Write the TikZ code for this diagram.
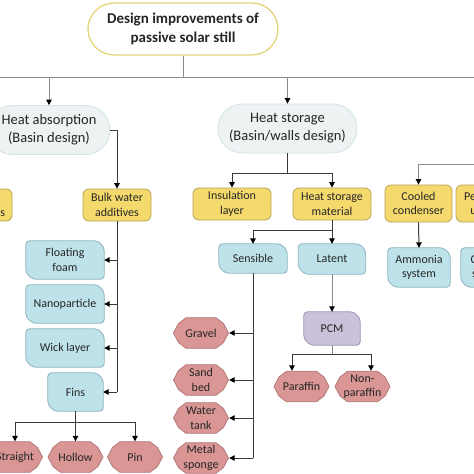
\documentclass[tikz,border=0pt]{standalone}
\usepackage{fontspec}
\setmainfont{Carlito}
\usetikzlibrary{shapes.misc, arrows.meta, calc}
\definecolor{yfill}{HTML}{F4D96C}
\definecolor{yline}{HTML}{B9A355}
\definecolor{bfill}{HTML}{BEE2EA}
\definecolor{bline}{HTML}{8DB3BD}
\definecolor{rfill}{HTML}{D99694}
\definecolor{rline}{HTML}{B47B7B}
\definecolor{lfill}{HTML}{CCC1DA}
\definecolor{lline}{HTML}{9D93B3}
\definecolor{gfill}{HTML}{EDF2F3}
\definecolor{gline}{HTML}{D3E2E5}
\definecolor{topline}{HTML}{E3D57A}
\definecolor{conn}{HTML}{3A3A3A}
\definecolor{connlight}{HTML}{8A8A8A}
\definecolor{txt}{HTML}{262626}
\pgfdeclarelayer{bg}
\pgfsetlayers{bg,main}
\tikzset{
  nodebase/.style={inner sep=0pt, align=center, text=txt, font=\fontsize{12}{14.5}\selectfont},
  topbox/.style={nodebase, rounded rectangle, draw=topline, line width=1.3pt, fill=white,
    minimum width=190pt, minimum height=52pt, font=\bfseries\fontsize{15}{19}\selectfont},
  catbox/.style={nodebase, rounded rectangle, draw=gline, line width=0.8pt, fill=gfill,
    minimum height=49pt, font=\fontsize{14.5}{18}\selectfont},
  ybox/.style={nodebase, rectangle, rounded corners=6pt, draw=yline, line width=0.8pt, fill=yfill,
    minimum height=32pt},
  bbox/.style={nodebase, rectangle, minimum height=38pt},
  rpoly/.style={nodebase, rectangle, minimum width=56pt, minimum height=31pt},
  redshape/.style={fill=rfill, draw=rline, line width=0.8pt},
  blueshape/.style={fill=bfill, draw=bline, line width=0.8pt, rounded corners=3.5pt},
  lavshape/.style={fill=lfill, draw=lline, line width=0.8pt, rounded corners=3.5pt},
  wire/.style={draw=conn, line width=1pt},
  wireg/.style={draw=connlight, line width=1pt},
  arr/.style={-{Triangle[length=5.5pt, width=5.5pt, color=black]}},
}
\newcommand\snipoutline[2]{%
  \path[#1] ($(#2.north east)+(-6.5pt,0pt)$) -- ($(#2.north east)+(0pt,-6.5pt)$)
    -- (#2.south east) -- ($(#2.south west)+(6.5pt,0pt)$) -- ($(#2.south west)+(0pt,6.5pt)$)
    -- (#2.north west) -- cycle;}
\begin{document}
\begin{tikzpicture}[x=1pt, y=-1pt]
\useasboundingbox (0,0) rectangle (474,474);
\clip (0,0) rectangle (474,474);

% nodes
\node[topbox] (top) at (183,29) {Design improvements of\\passive solar still};
\node[catbox, minimum width=122pt] (ha) at (49,130) {Heat absorption\\(Basin design)};
\node[catbox, minimum width=139pt] (hs) at (287.5,128.5) {Heat storage\\(Basin/walls design)};

\node[ybox, inner xsep=7pt] (bs) at (-15,205) {Basin\\surfaces};
\node[ybox, minimum width=68pt] (bulk) at (117,205) {Bulk water\\additives};
\node[ybox, minimum width=78pt] (ins) at (232,204) {Insulation\\layer};
\node[ybox, minimum width=78pt] (hsm) at (332,204) {Heat storage\\material};
\node[ybox, minimum width=67pt, minimum height=37pt] (cc) at (418.5,203.5) {Cooled\\condenser};
\node[ybox, minimum width=48pt, minimum height=37pt] (pm) at (480,203.5) {Peltier\\unit};

\node[bbox, minimum width=78pt] (ff) at (65,260) {Floating\\foam};
\node[bbox, minimum width=78pt] (np) at (65,304) {Nanoparticle};
\node[bbox, minimum width=78pt] (wl) at (65,348) {Wick layer};
\node[bbox, minimum width=55pt] (fins) at (75.5,392) {Fins};
\node[bbox, minimum width=68pt, minimum height=29pt] (sens) at (253,258.5) {Sensible};
\node[bbox, minimum width=67pt, minimum height=30pt] (lat) at (332,259) {Latent};
\node[bbox, minimum width=62pt, minimum height=39pt] (amm) at (419,267.5) {Ammonia\\system};
\node[bbox, minimum width=56pt, minimum height=39pt] (cs) at (489,267.5) {Cooling\\system};
\node[bbox, minimum width=56pt, minimum height=33pt] (pcm) at (332,328.5) {PCM};

\node[rpoly] (gravel) at (201,333) {Gravel};
\node[rpoly] (sand) at (201,380) {Sand\\bed};
\node[rpoly] (water) at (201,418) {Water\\tank};
\node[rpoly] (metal) at (201,458) {Metal\\sponge};
\node[rpoly] (par) at (301.5,386.5) {Paraffin};
\node[rpoly] (npar) at (362.5,386.5) {Non-\\paraffin};
\node[rpoly] (str) at (15,457) {Straight};
\node[rpoly] (hol) at (75.5,457) {Hollow};
\node[rpoly] (pin) at (135,457) {Pin};

% outlines behind their texts
\begin{pgfonlayer}{bg}
\clip (0,0) rectangle (474,474);
\fill[white] (0,0) rectangle (474,474);
\foreach \n in {ff,np,wl,fins,sens,lat,amm,cs} {\snipoutline{blueshape}{\n}}
\snipoutline{lavshape}{pcm}
\foreach \n in {gravel,sand,water,metal,par,npar,str,hol,pin}
  \path[redshape] ($(\n.center)+(27.5pt,0pt)$) -- ($(\n.center)+(22.5pt,9.5pt)$)
    -- ($(\n.center)+(15pt,15.3pt)$) -- ($(\n.center)+(-15pt,15.3pt)$)
    -- ($(\n.center)+(-22.5pt,9.5pt)$) -- ($(\n.center)+(-27.5pt,0pt)$)
    -- ($(\n.center)+(-22.5pt,-9.5pt)$) -- ($(\n.center)+(-15pt,-15.3pt)$)
    -- ($(\n.center)+(15pt,-15.3pt)$) -- ($(\n.center)+(22.5pt,-9.5pt)$) -- cycle;
\end{pgfonlayer}

% connectors
\coordinate (busL) at (0,77);
\coordinate (busR) at (474,77);
\draw[wireg] (busL) -- (busR);
\draw[wireg] (top.south) -- (top.south |- busL);
\draw[wireg, arr] (ha.north |- busL) -- (ha.north);
\draw[wireg, arr] (hs.north |- busL) -- (hs.north);

\draw[wire, arr] (ha.east) -| (bulk.north);

\coordinate (hsj) at (287.5,173);
\draw[wire] (hs.south) -- (hsj);
\draw[wire, arr] (hsj) -| (ins.north);
\draw[wire, arr] (hsj) -| (hsm.north);

\draw[wire] (bulk.south) -- (bulk.south |- fins.east);
\foreach \n in {ff,np,wl,fins} \draw[wire, arr] (bulk.south |- \n.east) -- (\n.east);

\coordinate (fj) at (75.5,422);
\draw[wire] (fins.south) -- (fj);
\draw[wire, arr] (fj) -| (str.north);
\draw[wire, arr] (fj) -- (hol.north);
\draw[wire, arr] (fj) -| (pin.north);

\coordinate (hj) at (332,230);
\draw[wire, arr] (hsm.south) -- (lat.north);
\draw[wire, arr] (hj) -| (sens.north);

\draw[wire] (sens.south) -- (sens.south |- metal.east);
\foreach \n in {gravel,sand,water,metal} \draw[wire, arr] (sens.south |- \n.east) -- (\n.east);

\draw[wireg, arr] (lat.south) -- (pcm.north);
\coordinate (pj) at (332,354);
\draw[wireg] (pcm.south) -- (pj);
\draw[wire, arr] (pj) -| ([xshift=-9.5pt]par.north);
\draw[wire, arr] (pj) -| ([xshift=8.5pt]npar.north);

\coordinate (rin) at (474,164);
\draw[wireg, arr] (rin) -| (cc.north);
\draw[wire, arr] (cc.south) -- (amm.north);
\end{tikzpicture}
\end{document}
